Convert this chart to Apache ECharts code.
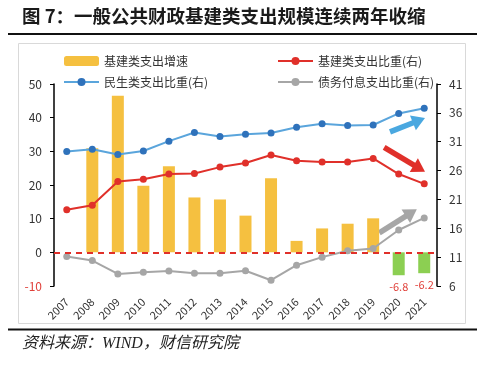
<!DOCTYPE html>
<html><head><meta charset="utf-8">
<script src="https://cdn.jsdelivr.net/npm/echarts@6/dist/echarts.min.js"></script>
<style>html,body{margin:0;padding:0;background:#fff}#c{width:500px;height:369px}</style>
</head><body><div id="c"></div>
<script>
const years = ['2007','2008','2009','2010','2011','2012','2013','2014','2015','2016','2017','2018','2019','2020','2021'];
const infraGrowth = [null, 30.9, 46.5, 19.8, 25.6, 16.3, 15.7, 10.9, 22.0, 3.4, 7.1, 8.5, 10.1, -6.8, -6.2];
const infraShare = [19.2, 20.0, 24.1, 24.5, 25.4, 25.5, 26.6, 27.3, 28.7, 27.7, 27.5, 27.5, 28.1, 25.4, 23.7];
const livelihoodShare = [29.3, 29.7, 28.8, 29.4, 31.1, 32.6, 31.9, 32.3, 32.5, 33.5, 34.1, 33.8, 33.9, 35.9, 36.8];
const debtShare = [11.1, 10.4, 8.1, 8.4, 8.6, 8.2, 8.2, 8.65, 7.0, 9.6, 11.0, 12.1, 12.5, 15.7, 17.8];
const leftTicks = {min: -10, max: 50, interval: 10};
const rightTicks = {min: 6, max: 41, interval: 5};
// trend arrows in data space: [categoryIndex, rightAxisValue]
const arrows = [
  {from: [12.66, 32.7], to: [14.03, 35.1], color: '#4AA8E0'},
  {from: [12.43, 30.0], to: [14.03, 25.8], color: '#E0302A'},
  {from: [12.24, 15.2], to: [13.71, 19.3], color: '#A6A6A6'}
];

const chart = echarts.init(document.getElementById('c'));
const font = '"Noto Sans CJK SC","Noto Sans",sans-serif';
const barData = infraGrowth.map(v => {
  if (v === null) return null;
  if (v < 0) return {value: v, itemStyle: {color: '#8CCF52'},
    label: {show: true, position: 'bottom', distance: 6, color: '#E0403A', fontSize: 11, fontFamily: font}};
  return v;
});

chart.setOption({
  animation: false,
  textStyle: {fontFamily: font},
  grid: {left: 54, right: 63, top: 84, bottom: 83, containLabel: false},
  legend: [
    {left: 58, top: 50, orient: 'vertical', itemGap: 9, itemWidth: 35, itemHeight: 10,
     textStyle: {fontSize: 12, color: '#333', fontFamily: font},
     data: ['基建类支出增速', '民生类支出比重(右)']},
    {left: 272, top: 50, orient: 'vertical', itemGap: 9, itemWidth: 35, itemHeight: 10,
     textStyle: {fontSize: 12, color: '#333', fontFamily: font},
     data: ['基建类支出比重(右)', '债务付息支出比重(右)']}
  ],
  xAxis: {
    type: 'category', data: years, boundaryGap: true,
    axisLine: {show: false}, axisTick: {show: false},
    axisLabel: {rotate: 45, fontSize: 11, color: '#333', margin: 14, interval: 0, fontFamily: font}
  },
  yAxis: [
    {type: 'value', min: leftTicks.min, max: leftTicks.max, interval: leftTicks.interval,
     splitLine: {show: false},
     axisLine: {show: true, lineStyle: {color: '#000', width: 1.5}},
     axisTick: {show: true, length: 4, lineStyle: {color: '#000'}},
     axisLabel: {fontSize: 12, margin: 12, fontFamily: font,
       color: v => v < 0 ? '#E0403A' : '#333'}},
    {type: 'value', min: rightTicks.min, max: rightTicks.max, interval: rightTicks.interval,
     position: 'right', splitLine: {show: false},
     axisLine: {show: true, lineStyle: {color: '#000', width: 1.5}},
     axisTick: {show: true, length: 4, lineStyle: {color: '#000'}},
     axisLabel: {fontSize: 12, margin: 12, color: '#333', fontFamily: font}}
  ],
  series: [
    {name: '基建类支出增速', type: 'bar', data: barData, barWidth: 12, yAxisIndex: 0,
     itemStyle: {color: '#F5C040'},
     markLine: {silent: true, symbol: 'none', label: {show: false},
       lineStyle: {color: '#E0302A', type: [6, 5], width: 2},
       data: [{yAxis: 0}]}},
    {name: '基建类支出比重(右)', type: 'line', yAxisIndex: 1, data: infraShare,
     symbol: 'circle', symbolSize: 7, lineStyle: {color: '#E0302A', width: 2},
     itemStyle: {color: '#E0302A'}},
    {name: '民生类支出比重(右)', type: 'line', yAxisIndex: 1, data: livelihoodShare,
     symbol: 'circle', symbolSize: 7, lineStyle: {color: '#5AA5DC', width: 2},
     itemStyle: {color: '#2F72BB'}},
    {name: '债务付息支出比重(右)', type: 'line', yAxisIndex: 1, data: debtShare,
     symbol: 'circle', symbolSize: 7, lineStyle: {color: '#A6A6A6', width: 2},
     itemStyle: {color: '#A6A6A6'}}
  ]
});

function toPx(pt) {
  const a = chart.convertToPixel({xAxisIndex: 0, yAxisIndex: 1}, [0, pt[1]]);
  const b = chart.convertToPixel({xAxisIndex: 0, yAxisIndex: 1}, [1, pt[1]]);
  return [a[0] + (b[0] - a[0]) * pt[0], a[1]];
}
const arrowEls = arrows.map(ar => {
  const p0 = toPx(ar.from), p1 = toPx(ar.to);
  const dx = p1[0] - p0[0], dy = p1[1] - p0[1];
  const len = Math.hypot(dx, dy), ux = dx / len, uy = dy / len;
  const headL = 13, headW = 8;
  const bx = p1[0] - ux * headL, by = p1[1] - uy * headL;
  return {type: 'group', z: 100, children: [
    {type: 'line', shape: {x1: p0[0], y1: p0[1], x2: bx + ux, y2: by + uy},
     style: {stroke: ar.color, lineWidth: 5.5}},
    {type: 'polygon', shape: {points: [[p1[0], p1[1]],
      [bx - uy * headW, by + ux * headW], [bx + uy * headW, by - ux * headW]]},
     style: {fill: ar.color}}
  ]};
});

chart.setOption({graphic: [
  {type: 'text', left: 22, top: 7, style: {text: '图 7：一般公共财政基建类支出规模连续两年收缩',
    font: 'bold 18.5px "Noto Sans CJK SC", sans-serif', fill: '#1a1a1a'}},
  {type: 'rect', shape: {x: 8, y: 33, width: 469, height: 2}, style: {fill: '#111'}},
  {type: 'rect', shape: {x: 18.5, y: 43.5, width: 447, height: 280}, style: {fill: 'none', stroke: '#D9D9D9', lineWidth: 1}},
  {type: 'rect', shape: {x: 8, y: 328.5, width: 469, height: 2}, style: {fill: '#111'}},
  {type: 'text', left: 22, top: 336, style: {text: '资料来源：WIND，财信研究院',
    font: 'italic 16px "Liberation Serif", "Noto Sans CJK SC", serif', fill: '#222'}}
].concat(arrowEls)});
</script></body></html>
